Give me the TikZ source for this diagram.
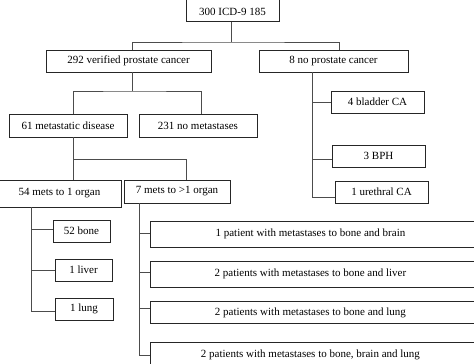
\documentclass[tikz,border=0pt]{standalone}
\usepackage{fontspec}
\setmainfont{Liberation Serif}
\usepackage{tikz}
\usetikzlibrary{calc, positioning}

\begin{document}
\begin{tikzpicture}[x=1pt, y=-1pt,
    box/.style={draw=black!85, line width=0.9pt, inner sep=2pt, minimum height=22pt, font=\fontsize{11}{13}\selectfont},
    wide/.style={box, minimum width=340pt, minimum height=26pt, anchor=west},
    link/.style={draw=black!70, line width=0.75pt}]

    % Khung hình (ảnh bị cắt ở mép trên, phải và dưới)
    \clip (0,0) rectangle (474,364);

    % 1. Hộp gốc
    \node[box, anchor=south, minimum width=93pt, text height=20pt, text depth=3pt, inner sep=3pt] (top) at (232.5,22) {300 ICD-9 185};

    % 2. Tầng thứ hai
    \node[box, minimum width=165pt] (verified) at (128.5,61) {292 verified prostate cancer};
    \node[box, minimum width=149pt] (noca) at (333.5,61) {8 no prostate cancer};

    % 3. Nhánh ung thư tuyến tiền liệt
    \node[box, minimum width=118pt, minimum height=23pt] (metdis) at (68,125.5) {61 metastatic disease};
    \node[box, minimum width=118pt, minimum height=23pt] (nomet) at (198,125.5) {231 no metastases};

    % 4. Nhánh không ung thư
    \node[box, minimum width=93pt] (bladder) at (377.5,102) {4 bladder CA};
    \node[box, minimum width=93pt] (bph) at (378.5,156) {3 BPH};
    \node[box, minimum width=93pt] (urethral) at (381.5,192) {1 urethral CA};

    % 5. Di căn
    \node[box, minimum width=123pt, minimum height=27pt] (one) at (59.5,193.5) {54 mets to 1 organ};
    \node[box, minimum width=106pt, minimum height=23pt] (multi) at (177,191.5) {7 mets to >1 organ};

    \node[box, minimum width=57pt] (bone) at (81.5,231) {52 bone};
    \node[box, minimum width=57pt] (liver) at (83.5,270) {1 liver};
    \node[box, minimum width=58pt] (lung) at (84,309) {1 lung};

    \node[wide, label={[font=\fontsize{11}{13}\selectfont, xshift=-10pt]center:1 patient with metastases to bone and brain}] (p1) at (150,234) {};
    \node[wide, label={[font=\fontsize{11}{13}\selectfont, xshift=-10pt]center:2 patients with metastases to bone and liver}] (p2) at (150,274) {};
    \node[wide, minimum height=22pt, label={[font=\fontsize{11}{13}\selectfont, xshift=-10pt]center:2 patients with metastases to bone and lung}] (p3) at (150,312.5) {};
    \node[wide, label={[font=\fontsize{11}{13}\selectfont, xshift=-10pt]center:2 patients with metastases to bone, brain and lung}] (p4) at (150,355) {};

    % 6. Đường nối
    \coordinate (j1) at (231,42);
    \draw[link] (top.south -| j1) -- (j1);
    \draw[link] ([xshift=3.5pt]verified.north) |- (j1) -| ([xshift=5.5pt]noca.north);

    \coordinate (j2) at (132,91);
    \draw[link] ([xshift=3.5pt]verified.south) -- (j2);
    \draw[link] ([xshift=5pt]metdis.north) |- (j2) -| ([xshift=3pt]nomet.north);

    \coordinate (j3) at (73,159);
    \draw[link] ([xshift=5pt]metdis.south) -- (j3 |- one.north);
    \draw[link] (j3) -| ([xshift=9pt]multi.north);

    % điểm vào các hộp bên phải của thân dọc
    \coordinate (t4) at (312,0);
    \coordinate (bphin) at ([yshift=-3pt]bph.west);
    \coordinate (urein) at ([yshift=-5pt]urethral.west);
    \draw[link] (t4 |- noca.south) |- (urein);
    \draw[link] (bladder.west) -- (bladder.west -| t4);
    \draw[link] (bphin) -- (bphin -| t4);

    \coordinate (t5) at (31,0);
    \coordinate (bonein) at ([yshift=2pt]bone.west);
    \coordinate (lungin) at ([yshift=-2pt]lung.west);
    \draw[link] (t5 |- one.south) |- (lungin);
    \draw[link] (bonein) -- (bonein -| t5);
    \draw[link] (liver.west) -- (liver.west -| t5);

    \coordinate (t6) at (139,0);
    \coordinate (p1in) at ([yshift=1pt]p1.west);
    \coordinate (p2in) at ([yshift=2pt]p2.west);
    \coordinate (p3in) at ([yshift=4pt]p3.west);
    \draw[link] (t6 |- multi.south) |- (p4.west);
    \draw[link] (p1in) -- (p1in -| t6);
    \draw[link] (p2in) -- (p2in -| t6);
    \draw[link] (p3in) -- (p3in -| t6);
\end{tikzpicture}
\end{document}
